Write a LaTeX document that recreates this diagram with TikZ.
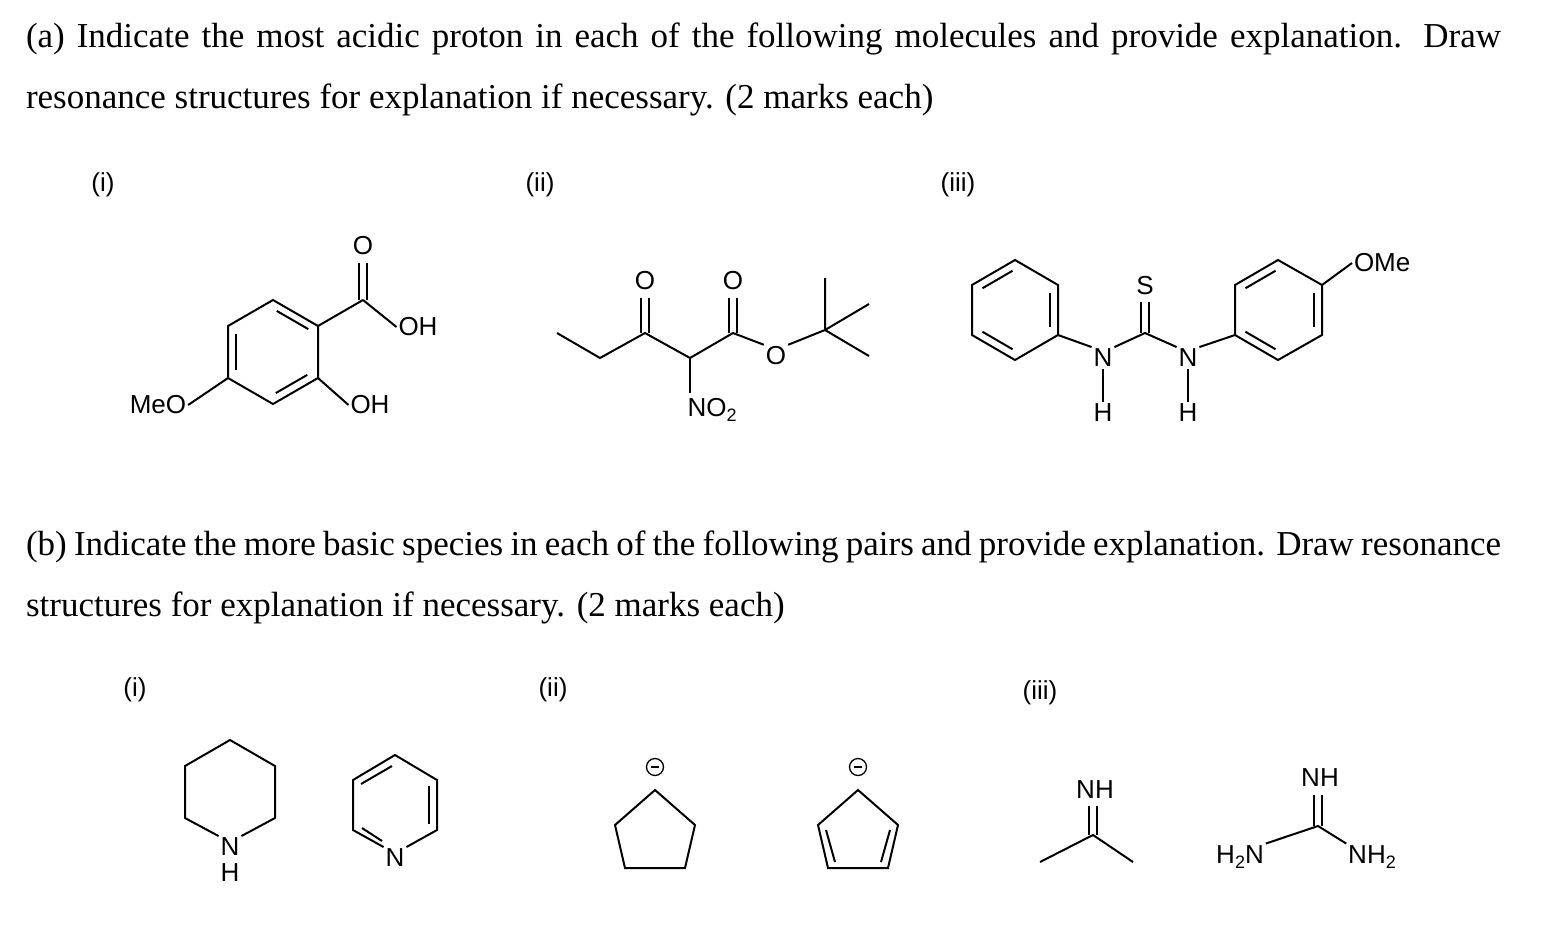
\documentclass[tikz,border=0pt]{standalone}
\usepackage{fontspec}
\usetikzlibrary{calc}
\setmainfont{Liberation Serif}
\newfontfamily\lab{Liberation Sans}
\begin{document}
\begin{tikzpicture}[x=1pt,y=-1pt,line width=2pt,
  atm/.style={font=\lab\fontsize{26}{28}\selectfont,inner sep=1pt,fill=white},
  hd/.style={font=\fontsize{35}{61}\selectfont,text width=1475pt,align=justify,anchor=north west,inner sep=0pt},
  num/.style={font=\lab\fontsize{26}{28}\selectfont,inner sep=0pt}]
\useasboundingbox (0,0) rectangle (1544,948);
\node[hd] (ha) at (25,22) {(a) Indicate the most acidic proton in each of the following molecules and provide explanation. Draw resonance structures for explanation if necessary. (2 marks each)};
\node[num] (ai) at (103,185) {(i)};
\node[num] (aii) at (540,185) {(ii)};
\node[num] (aiii) at (958,185) {(iii)};
% (a)(i)
\coordinate (r1) at (273,300); \coordinate (r2) at (318,326); \coordinate (r3) at (318,378);
\coordinate (r4) at (273,404); \coordinate (r5) at (228,378); \coordinate (r6) at (228,326);
\draw (r1)--(r2)--(r3)--(r4)--(r5)--(r6)--cycle;
\draw ($(r1)!0.15!(r2)+(-3,7)$)--($(r1)!0.85!(r2)+(-3,7)$);
\draw (236,334)--(236,370);
\draw ($(r3)!0.15!(r4)+(-4,-7)$)--($(r3)!0.85!(r4)+(-4,-7)$);
\node[atm] (meo) at (158,405) {MeO};
\draw (r5)--(meo.east);
\coordinate (c1) at (363,300);
\draw (r2)--(c1);
\node[atm] (o1) at (363,246) {O};
\draw (359,300)--(359,263) (367,300)--(367,263);
\node[atm] (oh1) at (418,327) {OH};
\draw (c1)--(oh1.west);
\node[atm] (oh2) at (370,405) {OH};
\draw (r3)--(oh2.west);
% (a)(ii)
\coordinate (b1) at (557,333); \coordinate (b2) at (600,358); \coordinate (b3) at (645,333);
\coordinate (b4) at (690,358); \coordinate (b5) at (733,333); \coordinate (b7) at (825,330);
\node[atm] (o2) at (645,281) {O};
\node[atm] (o3) at (733,281) {O};
\node[atm] (o4) at (776,356) {O};
\node[atm] (no2) at (712,410) {NO\raisebox{-5pt}{\fontsize{18}{20}\selectfont 2}};
\draw (b1)--(b2)--(b3)--(b4)--(b5)--(o4.north west) (o4.north east)--(b7);
\draw (641,333)--(641,298) (649,333)--(649,298);
\draw (729,333)--(729,298) (737,333)--(737,298);
\draw (b4)--(690,393);
\draw (b7)--(825,278) (b7)--(869,304) (b7)--(869,356);
% (a)(iii)
\coordinate (p1) at (1015,260); \coordinate (p2) at (1058,285); \coordinate (p3) at (1058,335);
\coordinate (p4) at (1015,360); \coordinate (p5) at (972,335); \coordinate (p6) at (972,285);
\draw (p1)--(p2)--(p3)--(p4)--(p5)--(p6)--cycle;
\draw ($(p6)!0.15!(p1)+(4,7)$)--($(p6)!0.85!(p1)+(4,7)$);
\draw (1050,293)--(1050,327);
\draw ($(p4)!0.15!(p5)+(4,-7)$)--($(p4)!0.85!(p5)+(4,-7)$);
\node[atm] (n1) at (1103,358) {N};
\node[atm] (h1) at (1103,413) {H};
\node[atm] (s1) at (1145,286) {S};
\node[atm] (n2) at (1188,358) {N};
\node[atm] (h2) at (1188,413) {H};
\coordinate (cs) at (1145,333);
\draw (p3)--(n1.north west) (n1.north east)--(cs)--(n2.north west);
\draw (1141,333)--(1141,302) (1149,333)--(1149,302);
\draw (n1)--(h1) (n2)--(h2);
\coordinate (q1) at (1278,260); \coordinate (q2) at (1322,285); \coordinate (q3) at (1322,335);
\coordinate (q4) at (1278,360); \coordinate (q5) at (1235,335); \coordinate (q6) at (1235,285);
\draw (q1)--(q2)--(q3)--(q4)--(q5)--(q6)--cycle;
\draw (n2.north east)--(q5);
\draw ($(q6)!0.15!(q1)+(4,7)$)--($(q6)!0.85!(q1)+(4,7)$);
\draw (1314,293)--(1314,327);
\draw ($(q4)!0.15!(q5)+(4,-7)$)--($(q4)!0.85!(q5)+(4,-7)$);
\node[atm,anchor=west] (ome) at (1352,263) {OMe};
\draw (q2)--(ome.west);
% (b)
\node[hd] (hb) at (25,530) {(b) Indicate the more basic species in each of the following pairs and provide explanation. Draw resonance structures for explanation if necessary. (2 marks each)};
\node[num] (bi) at (135,690) {(i)};
\node[num] (bii) at (553,690) {(ii)};
\node[num] (biii) at (1040,693) {(iii)};
% piperidine
\node[atm] (n3) at (230,847) {N};
\node[atm] (h3) at (230,873) {H};
\draw (n3.north east)--(275,818)--(275,766)--(230,740)--(185,766)--(185,818)--(n3.north west);
% pyridine
\node[atm] (n4) at (395,858) {N};
\draw (n4.north east)--(437,830)--(437,780)--(395,755)--(353,780)--(353,830)--(n4.north west);
\draw (429,786)--(429,824);
\draw (361,784)--(392,766);
\draw (362,828)--(382,841);
% cyclopentyl anion
\draw (655,790)--(695,825)--(685,868)--(625,868)--(615,825)--cycle;
\node[draw,circle,line width=1.3pt,inner sep=0pt,minimum size=17pt] (m1) at (655,767) {};
\draw[line width=1.5pt] (651,767)--(659,767);
% cyclopentadienyl
\draw (858,790)--(898,825)--(888,868)--(828,868)--(818,825)--cycle;
\draw (826,830)--(835,862) (890,830)--(881,862);
\node[draw,circle,line width=1.3pt,inner sep=0pt,minimum size=17pt] (m2) at (858,767) {};
\draw[line width=1.5pt] (854,767)--(862,767);
% imine
\node[atm] (nh1) at (1095,790) {NH};
\coordinate (ci) at (1093,835);
\draw (1089,835)--(1089,806) (1097,835)--(1097,806);
\draw (1040,862)--(ci)--(1133,862);
% guanidine
\node[atm] (nh2) at (1320,778) {NH};
\coordinate (cg) at (1318,826);
\draw (1314,826)--(1314,795) (1322,826)--(1322,795);
\node[atm] (h2n) at (1240,857) {H\raisebox{-5pt}{\fontsize{18}{20}\selectfont 2}N};
\node[atm] (nh2b) at (1372,857) {NH\raisebox{-5pt}{\fontsize{18}{20}\selectfont 2}};
\draw (h2n.north east)--(cg)--(nh2b.north west);
\end{tikzpicture}
\end{document}
